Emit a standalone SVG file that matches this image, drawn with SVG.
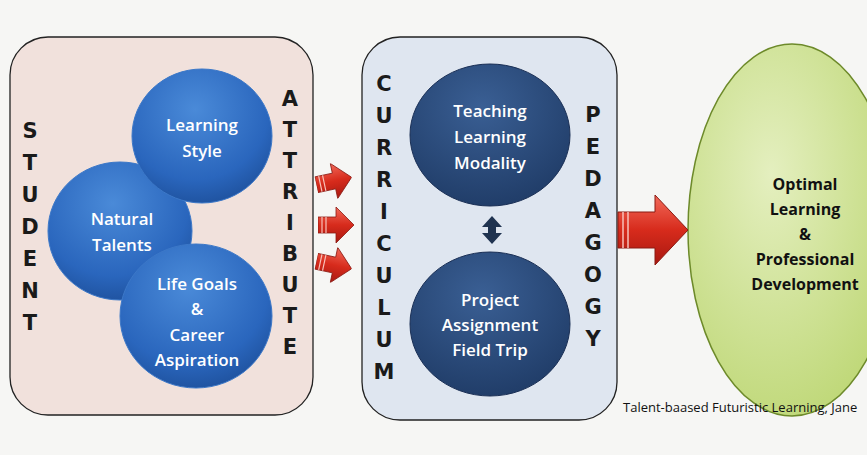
<svg xmlns="http://www.w3.org/2000/svg" width="867" height="455" viewBox="0 0 867 455">
<defs>
<radialGradient id="blue" cx="0.45" cy="0.3" r="0.75"><stop offset="0" stop-color="#4a8ad8"/><stop offset="0.7" stop-color="#2a66bd"/><stop offset="1" stop-color="#1d4f9a"/></radialGradient>
<radialGradient id="navy" cx="0.45" cy="0.3" r="0.75"><stop offset="0" stop-color="#3a5f94"/><stop offset="1" stop-color="#1f3b66"/></radialGradient>
<radialGradient id="green" cx="0.4" cy="0.35" r="0.75"><stop offset="0" stop-color="#e4efbf"/><stop offset="1" stop-color="#bcd672"/></radialGradient>
<linearGradient id="red" x1="0" y1="0" x2="0" y2="1"><stop offset="0" stop-color="#f26a5a"/><stop offset="0.5" stop-color="#d72b1c"/><stop offset="1" stop-color="#a81810"/></linearGradient>
<symbol id="sarrow" viewBox="0 0 36 36"><path d="M0,10 H18 V0 L36,18 L18,36 V26 H0 Z" fill="url(#red)" stroke="#8a1a12" stroke-width="0.8"/><path d="M4,10 V26 M8,10 V26" stroke="#f8c0b8" stroke-width="1.2"/></symbol>
</defs>
<style>
.big{font-family:"DejaVu Sans",sans-serif;font-weight:bold;font-size:21px;fill:#1a1a1a;text-anchor:middle}
.lbl{font-family:"Open Sans","Liberation Sans",sans-serif;font-weight:600;font-size:17px;fill:#fff;text-anchor:middle}
.olbl{font-family:"Open Sans","Liberation Sans",sans-serif;font-weight:bold;font-size:16px;fill:#111;text-anchor:middle}
.box{stroke:#222;stroke-width:1.3}
.circ{stroke:#3c78c8;stroke-width:1}
</style>
<rect width="867" height="455" fill="#f6f6f4"/>
<g id="student-box">
<rect class="box" x="10" y="37" width="303" height="378" rx="38" fill="#f1e1dc"/>
<text class="big" x="30"><tspan x="30" y="138">S</tspan><tspan x="30" y="170">T</tspan><tspan x="30" y="202">U</tspan><tspan x="30" y="234">D</tspan><tspan x="30" y="266">E</tspan><tspan x="30" y="298">N</tspan><tspan x="30" y="330">T</tspan></text>
<text class="big"><tspan x="290" y="106">A</tspan><tspan x="290" y="137">T</tspan><tspan x="290" y="168">T</tspan><tspan x="290" y="199">R</tspan><tspan x="290" y="230">I</tspan><tspan x="290" y="261">B</tspan><tspan x="290" y="292">U</tspan><tspan x="290" y="323">T</tspan><tspan x="290" y="354">E</tspan></text>
</g>
<g id="natural-talents"><ellipse class="circ" cx="120" cy="231" rx="72" ry="69" fill="url(#blue)"/><text class="lbl"><tspan x="122" y="225">Natural</tspan><tspan x="122" y="251">Talents</tspan></text></g>
<g id="learning-style"><ellipse class="circ" cx="202" cy="136" rx="70" ry="67" fill="url(#blue)"/><text class="lbl"><tspan x="202" y="131">Learning</tspan><tspan x="202" y="157">Style</tspan></text></g>
<g id="life-goals"><ellipse class="circ" cx="196" cy="316" rx="76" ry="72" fill="url(#blue)"/><text class="lbl"><tspan x="197" y="290">Life Goals</tspan><tspan x="197" y="315">&amp;</tspan><tspan x="197" y="341">Career</tspan><tspan x="197" y="366">Aspiration</tspan></text></g>
<g id="curriculum-box">
<rect class="box" x="362" y="37" width="255" height="383" rx="38" fill="#dfe6f0"/>
<text class="big"><tspan x="384" y="91">C</tspan><tspan x="384" y="123">U</tspan><tspan x="384" y="155">R</tspan><tspan x="384" y="187">R</tspan><tspan x="384" y="219">I</tspan><tspan x="384" y="251">C</tspan><tspan x="384" y="283">U</tspan><tspan x="384" y="315">L</tspan><tspan x="384" y="347">U</tspan><tspan x="384" y="379">M</tspan></text>
<text class="big"><tspan x="593" y="122">P</tspan><tspan x="593" y="154">E</tspan><tspan x="593" y="186">D</tspan><tspan x="593" y="218">A</tspan><tspan x="593" y="250">G</tspan><tspan x="593" y="282">O</tspan><tspan x="593" y="314">G</tspan><tspan x="593" y="346">Y</tspan></text>
</g>
<g id="teaching"><ellipse cx="490" cy="135" rx="80" ry="71" fill="url(#navy)" stroke="#1a2f55"/><text class="lbl"><tspan x="490" y="117">Teaching</tspan><tspan x="490" y="143">Learning</tspan><tspan x="490" y="169">Modality</tspan></text></g>
<g id="project"><ellipse cx="490" cy="324" rx="80" ry="72" fill="url(#navy)" stroke="#1a2f55"/><text class="lbl"><tspan x="490" y="306">Project</tspan><tspan x="490" y="331">Assignment</tspan><tspan x="490" y="356">Field Trip</tspan></text></g>
<g id="outcome"><ellipse cx="792" cy="230" rx="104" ry="186" fill="url(#green)" stroke="#6d8a2a" stroke-width="1.5"/><text class="olbl"><tspan x="805" y="190">Optimal</tspan><tspan x="805" y="215">Learning</tspan><tspan x="805" y="240">&amp;</tspan><tspan x="805" y="265">Professional</tspan><tspan x="805" y="290">Development</tspan></text></g>
<g id="connectors">
<use href="#sarrow" x="316" y="163" width="36" height="36" transform="rotate(-12 334 181)"/>
<use href="#sarrow" x="318" y="207" width="36" height="36"/>
<use href="#sarrow" x="316" y="247" width="36" height="36" transform="rotate(12 334 265)"/>
<path d="M618,212 H655 V195 L688,230 L655,265 V248 H618 Z" fill="url(#red)" stroke="#8a1a12"/>
<path d="M623,212 V248 M628,212 V248" stroke="#f8c0b8" stroke-width="1.5"/>
<path d="M492,216 L502,227 H496 V233 H502 L492,244 L482,233 H488 V227 H482 Z" fill="#1f3350"/>
</g>
<text x="623" y="412" font-family="Open Sans, Liberation Sans, sans-serif" font-size="13" fill="#111">Talent-baased Futuristic Learning, Jane</text>
</svg>
